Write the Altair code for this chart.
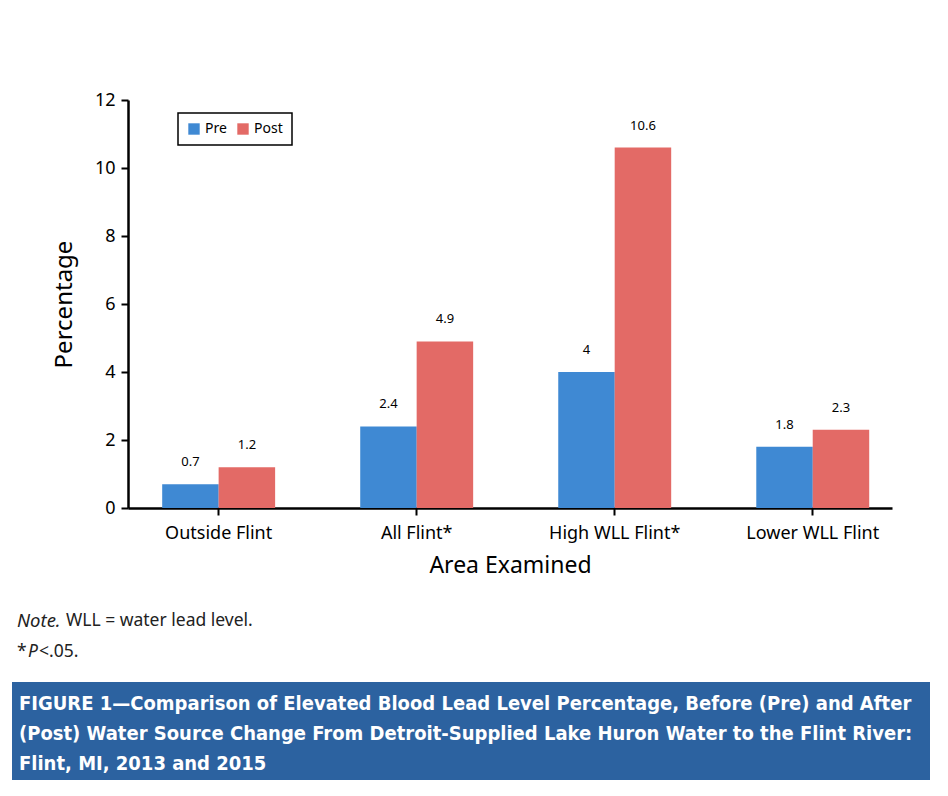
import altair as alt
import pandas as pd

# Elevated blood lead level percentages by area, before and after the source change
areas = ["Outside Flint", "All Flint*", "High WLL Flint*", "Lower WLL Flint"]
pre_values = [0.7, 2.4, 4.0, 1.8]
post_values = [1.2, 4.9, 10.6, 2.3]
periods = ["Pre", "Post"]
period_colors = ["#3f89d3", "#e36a66"]
y_ticks = [0, 2, 4, 6, 8, 10, 12]

rows = []
for area, pre, post in zip(areas, pre_values, post_values):
    rows.append({"area": area, "period": "Pre", "value": pre, "label": f"{pre:g}"})
    rows.append({"area": area, "period": "Post", "value": post, "label": f"{post:g}"})
df = pd.DataFrame(rows)

FONT = "Noto Sans"
NARROW = "Liberation Sans Narrow, DejaVu Sans Condensed, Noto Sans"

W, H = 764, 408

x_enc = alt.X(
    "area:N",
    sort=areas,
    scale=alt.Scale(paddingInner=0.43, paddingOuter=0.144, align=0.6),
    axis=alt.Axis(
        title="Area Examined",
        labelAngle=0,
        labelFontSize=18,
        labelFont=FONT,
        labelColor="black",
        labelPadding=9,
        titleFontSize=23,
        titleFont=FONT,
        titleFontWeight="normal",
        titleColor="black",
        titlePadding=12,
        domainColor="black",
        domainWidth=2.5,
        tickColor="black",
        tickWidth=2,
        tickSize=7,
    ),
)
xoff_enc = alt.XOffset("period:N", sort=periods, scale=alt.Scale(paddingInner=0, paddingOuter=0))
y_enc = alt.Y(
    "value:Q",
    scale=alt.Scale(domain=[0, 12], nice=False),
    axis=alt.Axis(
        title="Percentage",
        values=y_ticks,
        grid=False,
        labelFontSize=18,
        labelFont=FONT,
        labelColor="black",
        labelPadding=6,
        titleFontSize=24,
        titleFont=FONT,
        titleFontWeight="normal",
        titleColor="black",
        titlePadding=18,
        domainColor="black",
        domainWidth=2.5,
        tickColor="black",
        tickWidth=2,
        tickSize=7,
    ),
)

bars = alt.Chart(df).mark_bar(size=56.5).encode(
    x=x_enc,
    xOffset=xoff_enc,
    y=y_enc,
    color=alt.Color(
        "period:N",
        sort=periods,
        scale=alt.Scale(domain=periods, range=period_colors),
        legend=alt.Legend(
            title=None,
            orient="none",
            legendX=50,
            legendY=13,
            direction="horizontal",
            symbolType="square",
            symbolSize=130,
            symbolStrokeWidth=0,
            labelFontSize=14,
            labelFont=FONT,
            labelColor="black",
            columnPadding=9,
            padding=9,
            strokeColor="black",
            fillColor="white",
            labelOffset=4,
        ),
    ),
)

labels = alt.Chart(df).mark_text(
    baseline="bottom", dy=-15, fontSize=13, font=FONT, color="black"
).encode(
    x=alt.X("area:N", sort=areas),
    xOffset=alt.XOffset("period:N", sort=periods),
    y="value:Q",
    text="label:N",
)

# Notes below the chart (positions relative to the plot's top-left corner)
def note(text, x, y, style="normal", size=17.5):
    return alt.Chart(pd.DataFrame({"t": [text]})).mark_text(
        align="left", baseline="middle", fontSize=size, font=FONT,
        fontStyle=style, color="#222222",
    ).encode(x=alt.value(x), y=alt.value(y), text="t:N")

notes = [
    note("Note.", -111, 521, "italic", 18.5),
    note("WLL = water lead level.", -62, 521),
    note("*", -111, 552),
    note("P", -100, 552, "italic"),
    note("<.05.", -89, 552),
]

caption_lines = [
    "FIGURE 1\u2014Comparison of Elevated Blood Lead Level Percentage, Before (Pre) and After",
    "(Post) Water Source Change From Detroit-Supplied Lake Huron Water to the Flint River:",
    "Flint, MI, 2013 and 2015",
]
caption_y = [604, 634, 664]

caption_box = alt.Chart(pd.DataFrame({"k": [0]})).mark_rect(color="#2c62a0").encode(
    x=alt.value(-116), x2=alt.value(802), y=alt.value(582), y2=alt.value(680)
)
caption_text = [
    alt.Chart(pd.DataFrame({"line": [line]})).mark_text(
        align="left", baseline="middle", fontSize=20, font=NARROW, fontWeight="bold",
        color="white",
    ).encode(x=alt.value(-109), y=alt.value(yy), text="line:N")
    for line, yy in zip(caption_lines, caption_y)
]

chart = (
    alt.layer(bars, labels, *notes, caption_box, *caption_text)
    .properties(
        width=W,
        height=H,
        autosize=alt.AutoSizeParams(type="none"),
        padding={"left": 128, "top": 100, "right": 56, "bottom": 288},
        background="white",
    )
    .configure_view(stroke=None)
    .configure_legend(strokeWidth=1.5)
)

chart.save("out.html", embed_options={"renderer": "svg", "actions": False})
